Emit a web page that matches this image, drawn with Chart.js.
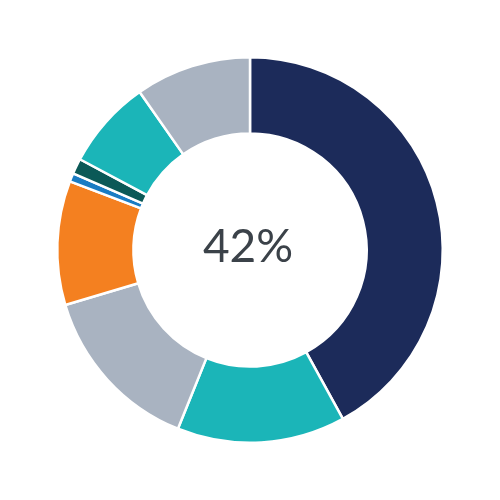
<!DOCTYPE html>
<html>
<head>
<meta charset="utf-8">
<script src="https://cdn.jsdelivr.net/npm/chart.js@4"></script>
<style>
  html, body { margin: 0; padding: 0; background: #fff; }
  #wrap { width: 500px; height: 500px; }
</style>
</head>
<body>
<div id="wrap"><canvas id="myChart"></canvas></div>
<script>
// segment data, clockwise from 12 o'clock
const labels = ['A', 'B', 'C', 'D', 'E', 'F', 'G', 'H'];
const values = [42, 14.1, 14.3, 10.4, 0.7, 1.3, 7.5, 9.7];
const colors = ['#1c2b5a', '#1bb5b8', '#a9b3c1', '#f48020', '#1a7cc3', '#0b5957', '#1bb5b8', '#a9b3c1'];
const centerLabel = '42%';

// texte au centre
const centerText = {
    id: 'centerText',
    afterDraw(chart) {
        const c = chart.ctx;
        const meta = chart.getDatasetMeta(0).data[0];
        c.save();
        c.font = '400 46px Lato';
        c.fillStyle = '#3b4249';
        c.textAlign = 'center';
        c.textBaseline = 'middle';
        c.fillText(centerLabel, meta.x - 2, meta.y - 3);
        c.restore();
    }
};

const ctx = document.getElementById('myChart').getContext('2d');
const myChart = new Chart(ctx, {
    type: 'doughnut',
    data: {
        labels: labels,
        datasets: [{
            data: values,
            backgroundColor: colors,
            borderColor: '#ffffff',
            borderWidth: 2.5
        }]
    },
    options: {
        responsive: true,
        maintainAspectRatio: false,
        animation: false,
        cutout: '60.5%',
        layout: { padding: 56 },
        plugins: {
            legend: { display: false },
            tooltip: { enabled: false }
        }
    },
    plugins: [centerText]
});
</script>
</body>
</html>
